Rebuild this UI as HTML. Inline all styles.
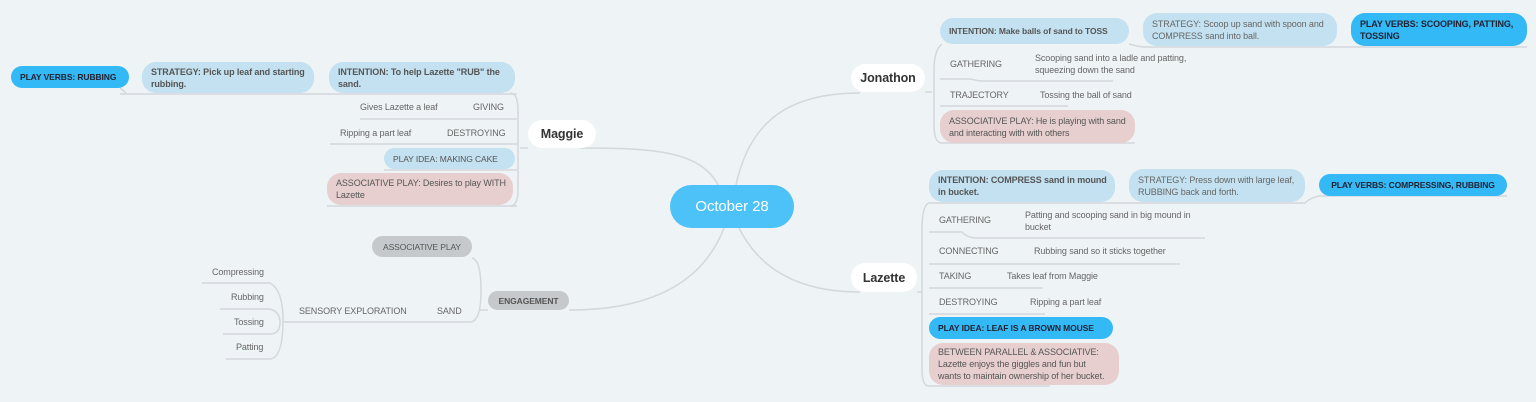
<!DOCTYPE html>
<html><head><meta charset="utf-8"><style>
html,body{margin:0;padding:0}
body{width:1536px;height:402px;background:#eef3f6;position:relative;overflow:hidden;font-family:"Liberation Sans",sans-serif;color:#555}
.n{position:absolute;box-sizing:border-box;font-size:9px;line-height:12px;white-space:nowrap;letter-spacing:-0.1px}
.p{border-radius:14px;padding:0 9px;display:flex;align-items:center}
.lb{background:#c3e1f0}
.bb{background:#33b9f5;color:#223;font-weight:bold}
.pk{background:#e8cfcf}
.gr{background:#c6c9cb}
.b{font-weight:bold}
.w{background:#fff;border-radius:14px;font-weight:bold;font-size:12.5px;color:#333;display:flex;align-items:center;justify-content:center}
.t{color:#666}
</style></head><body>
<svg width="1536" height="402" style="position:absolute;left:0;top:0" fill="none" stroke="#d3d8db" stroke-width="1.5">
<path d="M718,185 C700,150 650,148 580,148"/>
<path d="M736,185 C750,120 790,93 860,93"/>
<path d="M739,228 C760,270 800,292 860,292"/>
<path d="M724,228 C700,290 640,310 569,310"/>
<!-- Maggie -->
<path d="M528,148 L520,148"/>
<path d="M510,93 Q518,93 518,110 L518,190 Q518,206 510,206"/>
<path d="M120,94 L517,94"/>
<path d="M120,88 Q128,94 125,94"/>
<path d="M360,119 L517,119"/>
<path d="M330,144 L517,144"/>
<path d="M384,170 L517,170"/>
<path d="M327,206 L517,206"/>
<!-- Jonathon -->
<path d="M925,92 L932,92"/>
<path d="M942,44 Q934,50 934,70 L934,125 Q934,143 942,143"/>
<path d="M1129,44 Q1136,46 1143,47 L1527,47"/>
<path d="M940,79 L970,79 Q975,80 980,81 L1113,81"/>
<path d="M940,106 L1068,106"/>
<path d="M940,143 L1135,143"/>
<!-- Lazette -->
<path d="M917,292 L922,292"/>
<path d="M929,203 Q922,205 922,230 L922,370 Q922,386 929,386"/>
<path d="M929,203 L1305,203 Q1310,198 1319,196 L1507,196"/>
<path d="M929,232 L962,232 Q966,237 975,238 L1205,238"/>
<path d="M929,264 L1180,264"/>
<path d="M929,288 L1043,288"/>
<path d="M929,314 L1045,314"/>
<path d="M929,386 L1050,386"/>
<!-- Engagement -->
<path d="M488,310 L480,310"/>
<path d="M472,258 Q481,260 481,290 Q481,322 470,322"/>
<path d="M283,322 L470,322"/>
<path d="M202,283 L270,283 Q283,290 283,320 Q283,358 270,359 L226,359"/>
<path d="M220,309 L270,309 Q280,312 280,322 Q280,334 270,334 L223,334"/>
</svg>

<div class="n" style="left:670px;top:185px;width:124px;height:43px;background:#4cc2f8;border-radius:22px;color:#fff;font-size:15px;display:flex;align-items:center;justify-content:center">October 28</div>

<div class="n w" style="left:528px;top:120px;width:68px;height:28px">Maggie</div>
<div class="n w" style="left:851px;top:64px;width:74px;height:28px">Jonathon</div>
<div class="n w" style="left:851px;top:263px;width:66px;height:29px">Lazette</div>
<div class="n gr p b" style="left:488px;top:291px;width:81px;height:19px;justify-content:center;border-radius:10px;font-size:8.5px">ENGAGEMENT</div>

<!-- Maggie children -->
<div class="n p lb b" style="left:329px;top:62px;width:186px;height:31px">INTENTION: To help Lazette "RUB" the<br>sand.</div>
<div class="n p lb b" style="left:142px;top:62px;width:172px;height:31px">STRATEGY: Pick up leaf and starting<br>rubbing.</div>
<div class="n p bb" style="left:11px;top:66px;width:118px;height:22px;border-radius:11px;font-size:8.5px">PLAY VERBS: RUBBING</div>
<div class="n t" style="left:360px;top:101px">Gives Lazette a leaf</div>
<div class="n t" style="left:473px;top:101px">GIVING</div>
<div class="n t" style="left:340px;top:127px">Ripping a part leaf</div>
<div class="n t" style="left:447px;top:127px">DESTROYING</div>
<div class="n p lb" style="left:384px;top:148px;width:131px;height:21px;border-radius:11px;font-size:8.5px">PLAY IDEA: MAKING CAKE</div>
<div class="n p pk" style="left:327px;top:173px;width:186px;height:32px">ASSOCIATIVE PLAY: Desires to play WITH<br>Lazette</div>

<!-- Jonathon children -->
<div class="n p lb b" style="left:940px;top:18px;width:189px;height:26px;font-size:8.5px">INTENTION: Make balls of sand to TOSS</div>
<div class="n p lb" style="left:1143px;top:13px;width:194px;height:33px;color:#666">STRATEGY: Scoop up sand with spoon and<br>COMPRESS sand into ball.</div>
<div class="n p bb" style="left:1351px;top:13px;width:176px;height:33px">PLAY VERBS: SCOOPING, PATTING,<br>TOSSING</div>
<div class="n t" style="left:950px;top:58px">GATHERING</div>
<div class="n t" style="left:1035px;top:52px">Scooping sand into a ladle and patting,<br>squeezing down the sand</div>
<div class="n t" style="left:950px;top:89px">TRAJECTORY</div>
<div class="n t" style="left:1040px;top:89px">Tossing the ball of sand</div>
<div class="n p pk" style="left:940px;top:110px;width:195px;height:33px">ASSOCIATIVE PLAY: He is playing with sand<br>and interacting with with others</div>

<!-- Lazette children -->
<div class="n p lb b" style="left:929px;top:170px;width:186px;height:32px">INTENTION: COMPRESS sand in mound<br>in bucket.</div>
<div class="n p lb" style="left:1129px;top:169px;width:176px;height:33px;color:#666">STRATEGY: Press down with large leaf,<br>RUBBING back and forth.</div>
<div class="n p bb" style="left:1319px;top:174px;width:188px;height:22px;border-radius:11px;justify-content:center;font-size:8.5px">PLAY VERBS: COMPRESSING, RUBBING</div>
<div class="n t" style="left:939px;top:214px">GATHERING</div>
<div class="n t" style="left:1025px;top:209px">Patting and scooping sand in big mound in<br>bucket</div>
<div class="n t" style="left:939px;top:245px">CONNECTING</div>
<div class="n t" style="left:1034px;top:245px">Rubbing sand so it sticks together</div>
<div class="n t" style="left:939px;top:270px">TAKING</div>
<div class="n t" style="left:1007px;top:270px">Takes leaf from Maggie</div>
<div class="n t" style="left:939px;top:296px">DESTROYING</div>
<div class="n t" style="left:1030px;top:296px">Ripping a part leaf</div>
<div class="n p bb" style="left:929px;top:317px;width:184px;height:22px;border-radius:11px;font-size:8.5px">PLAY IDEA: LEAF IS A BROWN MOUSE</div>
<div class="n p pk" style="left:929px;top:343px;width:190px;height:42px">BETWEEN PARALLEL &amp; ASSOCIATIVE:<br>Lazette enjoys the giggles and fun but<br>wants to maintain ownership of her bucket.</div>

<!-- Engagement children -->
<div class="n p gr" style="left:372px;top:236px;width:100px;height:21px;border-radius:11px;justify-content:center;font-size:8.5px">ASSOCIATIVE PLAY</div>
<div class="n t" style="left:299px;top:305px">SENSORY EXPLORATION</div>
<div class="n t" style="left:437px;top:305px">SAND</div>
<div class="n t" style="left:212px;top:266px">Compressing</div>
<div class="n t" style="left:231px;top:291px">Rubbing</div>
<div class="n t" style="left:234px;top:316px">Tossing</div>
<div class="n t" style="left:236px;top:341px">Patting</div>
</body></html>
